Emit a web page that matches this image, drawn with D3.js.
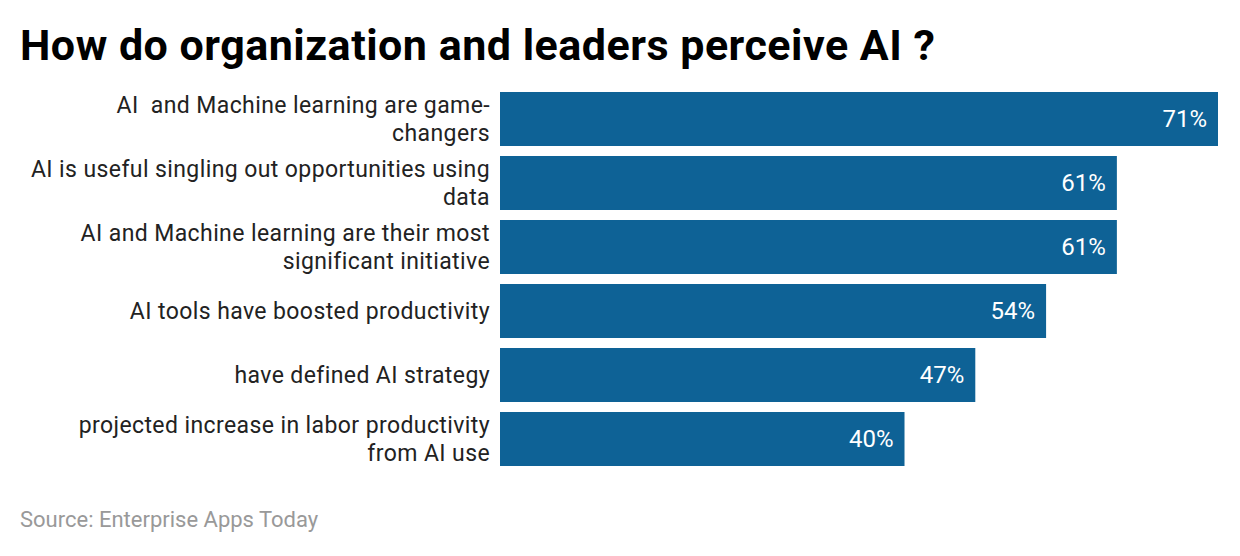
<!DOCTYPE html>
<html>
<head>
<meta charset="utf-8">
<script src="https://cdn.jsdelivr.net/npm/d3@7"></script>
<style>
  body { margin: 0; background: #fff; }
  text { font-family: Roboto, sans-serif; }
</style>
</head>
<body>
<svg id="chart" width="1240" height="556"></svg>
<script>
// categories (line breaks as in the original)
var categories = [
  "AI  and Machine learning are game-\nchangers",
  "AI is useful singling out opportunities using\ndata",
  "AI and Machine learning are their most\nsignificant initiative",
  "AI tools have boosted productivity",
  "have defined AI strategy",
  "projected increase in labor productivity\nfrom AI use"
];
var values = [71, 61, 61, 54, 47, 40];

var svg = d3.select("#chart");

svg.append("text")
  .attr("x", 20).attr("y", 60)
  .attr("font-size", "43px")
  .attr("font-weight", "bold")
  .attr("letter-spacing", "0.5px")
  .attr("fill", "#000")
  .text("How do organization and leaders perceive AI ?");

var x = d3.scaleLinear().domain([0, 71]).range([500, 1218]);
var y = d3.scaleBand()
  .domain(d3.range(categories.length))
  .range([87, 471])
  .paddingInner(10 / 64)
  .paddingOuter(5 / 64);

var g = svg.append("g");

g.selectAll("rect")
  .data(values)
  .enter()
  .append("rect")
  .attr("x", x(0))
  .attr("y", function(d, i) { return y(i); })
  .attr("width", function(d) { return x(d) - x(0); })
  .attr("height", y.bandwidth())
  .attr("fill", "#0e6296");

g.selectAll(".val")
  .data(values)
  .enter()
  .append("text")
  .attr("class", "val")
  .attr("x", function(d) { return x(d) - 11; })
  .attr("y", function(d, i) { return y(i) + y.bandwidth() / 2; })
  .attr("dy", "0.35em")
  .attr("text-anchor", "end")
  .attr("font-size", "24px")
  .attr("fill", "#fff")
  .text(function(d) { return d + "%"; });

var lineH = 28;
var labels = g.selectAll(".cat")
  .data(categories)
  .enter()
  .append("text")
  .attr("class", "cat")
  .attr("text-anchor", "end")
  .attr("font-size", "23px")
  .attr("letter-spacing", "0.4px")
  .attr("fill", "#222")
  .style("white-space", "pre");

labels.each(function(d, i) {
  var lines = d.split("\n");
  var cy = y(i) + y.bandwidth() / 2;
  var top = cy - (lines.length - 1) * lineH / 2;
  d3.select(this).selectAll("tspan")
    .data(lines)
    .enter()
    .append("tspan")
    .attr("x", 490)
    .attr("y", function(t, k) { return top + k * lineH; })
    .attr("dy", "0.33em")
    .text(function(t) { return t; });
});

svg.append("text")
  .attr("x", 20).attr("y", 527)
  .attr("font-size", "22px")
  .attr("fill", "#999")
  .text("Source: Enterprise Apps Today");
</script>
</body>
</html>
